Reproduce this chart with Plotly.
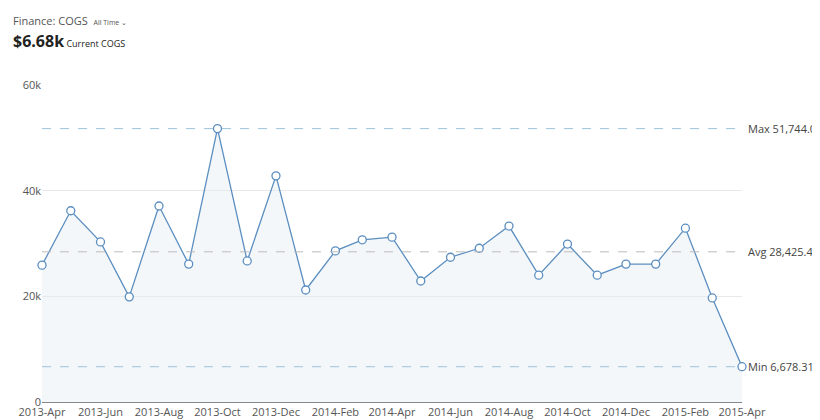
import plotly.graph_objects as go

months = ["2013-04","2013-05","2013-06","2013-07","2013-08","2013-09","2013-10","2013-11","2013-12",
          "2014-01","2014-02","2014-03","2014-04","2014-05","2014-06","2014-07","2014-08","2014-09",
          "2014-10","2014-11","2014-12","2015-01","2015-02","2015-03","2015-04"]
cogs = [25900,36200,30300,19900,37100,26100,51744.03,26700,42800,21200,28600,30700,31200,22900,
        27400,29100,33300,24000,29900,24000,26100,26100,32900,19700,6678.31]
tick_vals = months[::2]
tick_text = ["2013-Apr","2013-Jun","2013-Aug","2013-Oct","2013-Dec","2014-Feb","2014-Apr","2014-Jun",
             "2014-Aug","2014-Oct","2014-Dec","2015-Feb","2015-Apr"]
ref_values = [51744.03, 28425.44, 6678.31]
ref_labels = ["Max 51,744.03", "Avg 28,425.44", "Min 6,678.31"]

x = [m + "-01" for m in months]
fig = go.Figure()
fig.add_trace(go.Scatter(x=x, y=cogs, mode="lines+markers", fill="tozeroy",
    fillcolor="rgba(230,237,245,0.45)", line=dict(color="#5b8ec0", width=1.3),
    marker=dict(size=8, color="white", line=dict(color="#5b8ec0", width=1.3)), cliponaxis=False))
for v, lab, c in zip(ref_values, ref_labels, ["#9cc3dc", "#bbbbbb", "#9cc3dc"]):
    fig.add_shape(type="line", xref="paper", x0=0, x1=1, y0=v, y1=v,
                  line=dict(color=c, width=1, dash="dash"))
    fig.add_annotation(xref="paper", x=1, y=v, text=lab, showarrow=False, xanchor="left",
                       xshift=4, font=dict(size=11, color="#444"))
fig.add_annotation(xref="paper", yref="paper", x=-0.045, y=1.205, xanchor="left", yanchor="middle",
                   showarrow=False,
                   text="Finance: COGS  <span style='font-size:7px'>All Time ⌄</span>",
                   font=dict(size=11, color="#555"))
fig.add_annotation(xref="paper", yref="paper", x=-0.045, y=1.14, xanchor="left", yanchor="middle",
                   showarrow=False,
                   text="<b>$6.68k</b><span style='font-size:9px'> Current COGS</span>",
                   font=dict(size=16, color="#222"))
fig.update_layout(width=820, height=420, margin=dict(l=34, r=86, t=77, b=26),
    plot_bgcolor="white", paper_bgcolor="white", showlegend=False,
    font=dict(family="Open Sans", color="#555", size=11),
    xaxis=dict(tickvals=[t + "-01" for t in tick_vals], ticktext=tick_text, range=[x[0], x[-1]],
               showgrid=False, showline=True, linecolor="#888", ticks="", automargin=False,
               tickfont=dict(size=11)),
    yaxis=dict(range=[0, 60000], tickvals=[0, 20000, 40000, 60000], ticktext=["0", "20k", "40k", "60k"],
               gridcolor="#e8e8e8", zeroline=False, showline=False, automargin=False,
               tickfont=dict(size=11)))
fig.write_html("out.html")
